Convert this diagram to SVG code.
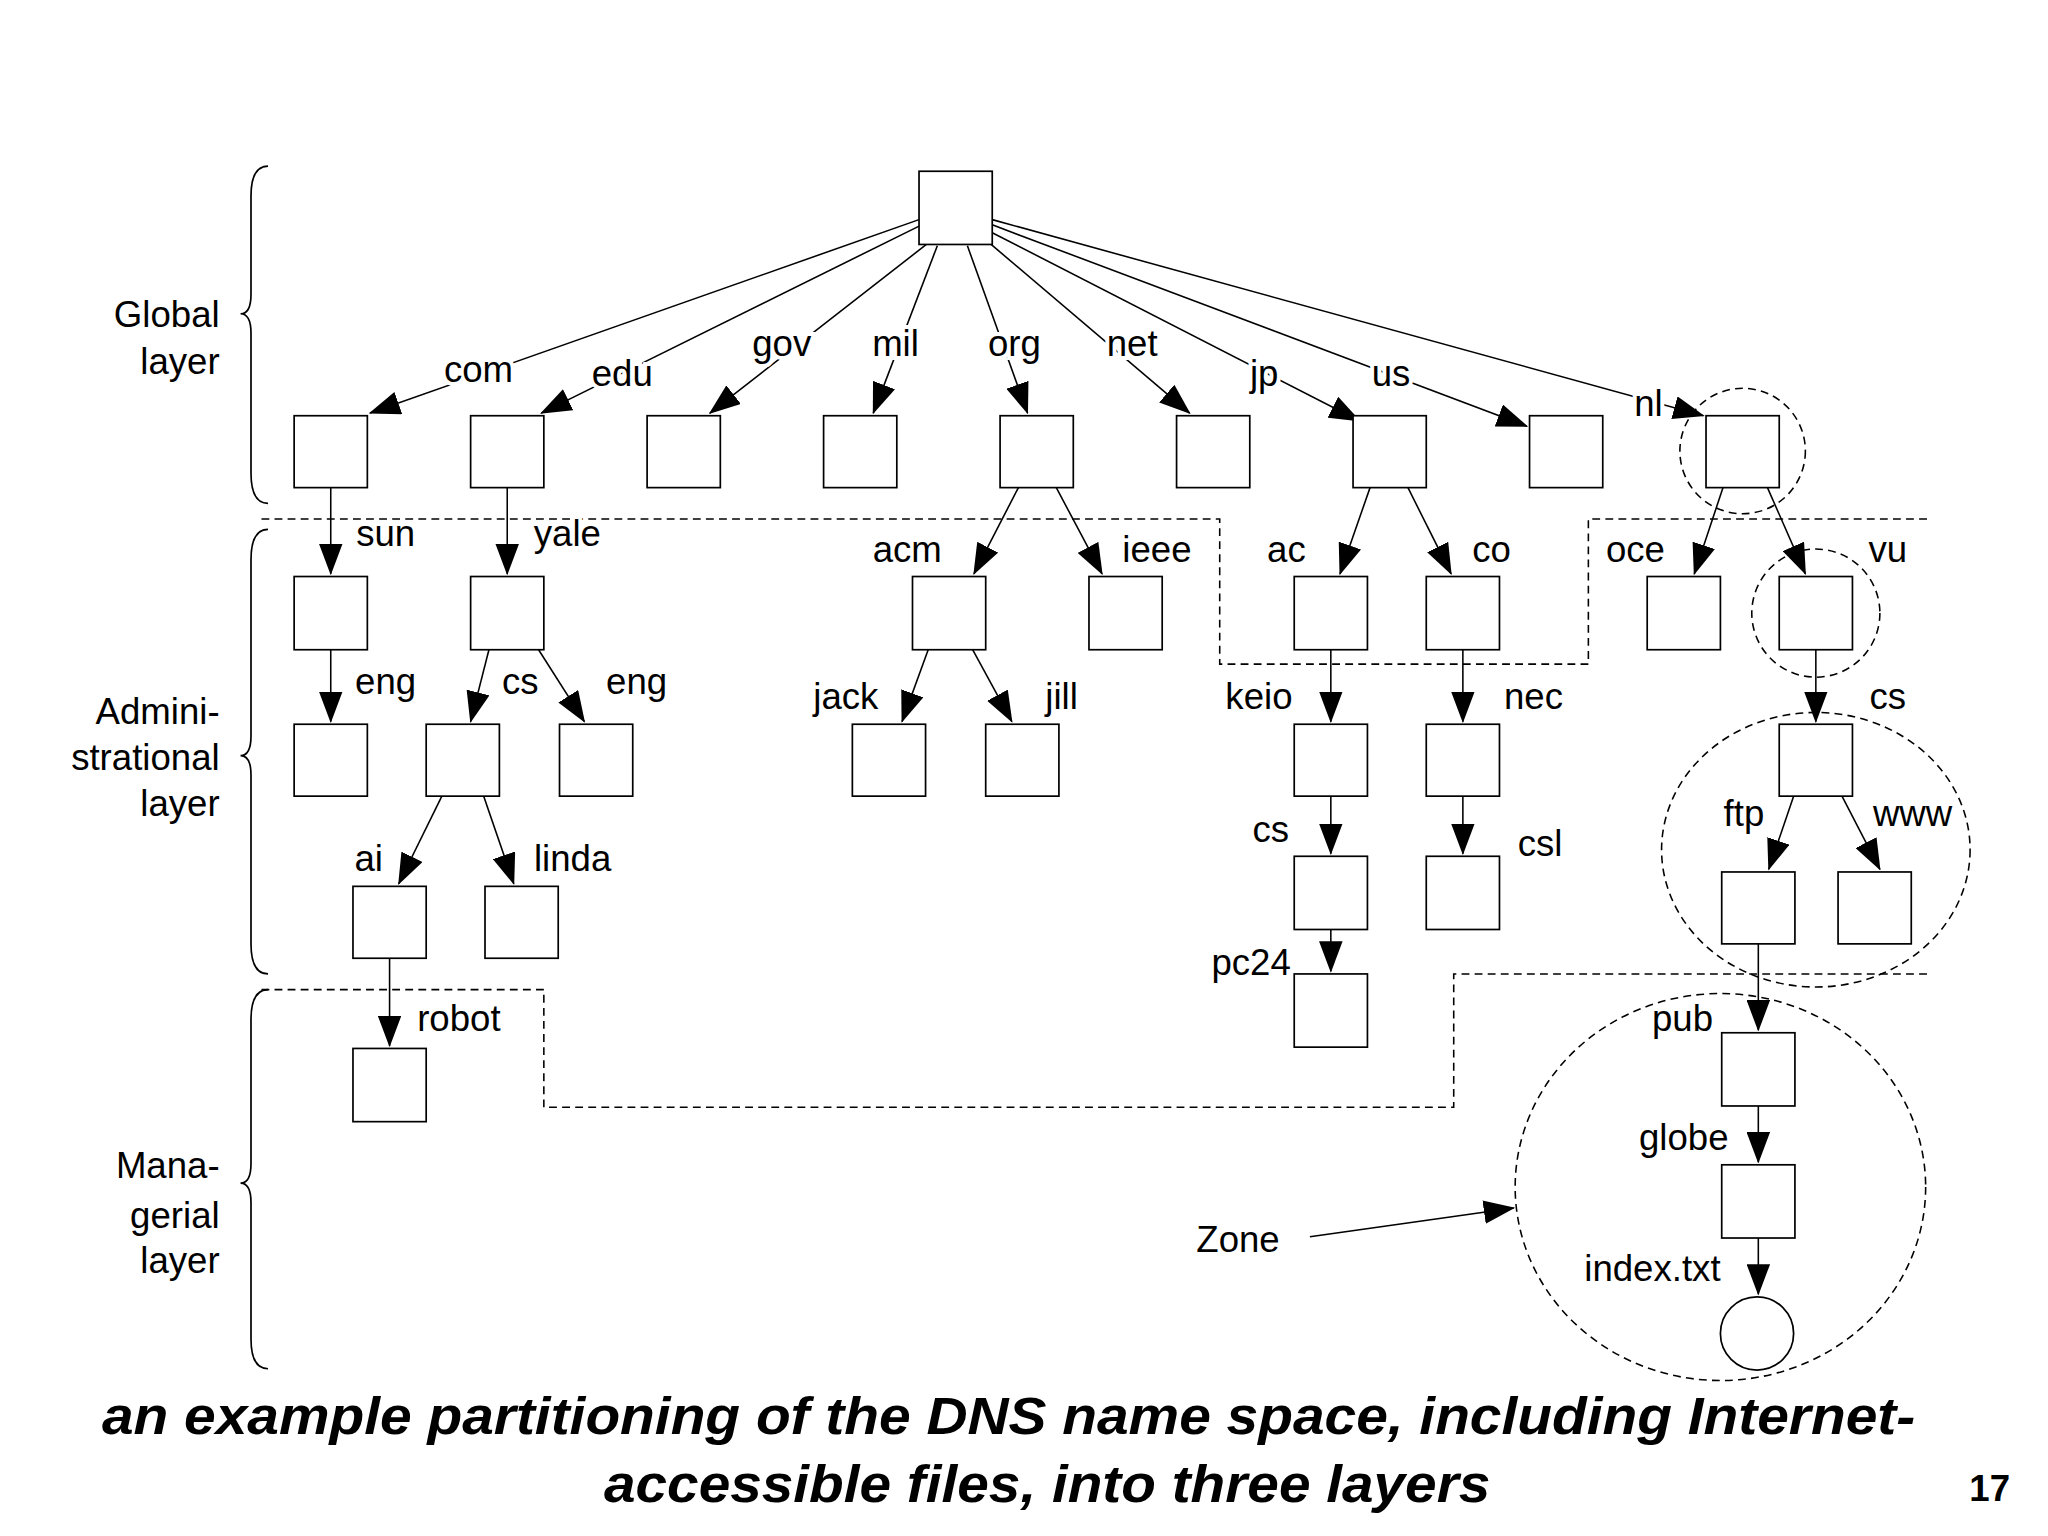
<svg xmlns="http://www.w3.org/2000/svg" width="2048" height="1536" viewBox="0 0 2048 1536">
<defs>
<marker id="ah" markerUnits="userSpaceOnUse" markerWidth="24" markerHeight="18" viewBox="0 0 24 18" refX="23" refY="9" orient="auto"><path d="M0,0 L24,9 L0,18 z" fill="#000"/></marker>
<style>
.b{fill:#fff;stroke:#000;stroke-width:1.3}
.e line{stroke:#000;stroke-width:1.2;marker-end:url(#ah)}
.d{fill:none;stroke:#000;stroke-width:1.2;stroke-dasharray:6 4}
text{font-family:"Liberation Sans",Arial,sans-serif;font-size:28px;fill:#000}
.l text{paint-order:stroke;stroke:#fff;stroke-width:6px}
.ly{text-anchor:end}
.cap{font-weight:bold;font-style:italic;font-size:40px}
</style>
</defs>
<rect width="2048" height="1536" fill="#fff"/>
<g transform="scale(1.3073)">
<g id="partitions">
<path class="d" d="M200,397 H933 V508 H1215 V397 H1475"/>
<path class="d" d="M200,757 H416 V847 H1112 V745 H1475"/>
<circle class="d" cx="1333" cy="345" r="48"/>
<circle class="d" cx="1389" cy="469" r="49"/>
<ellipse class="d" cx="1389" cy="650" rx="118" ry="105"/>
<ellipse class="d" cx="1316" cy="908" rx="157" ry="148"/>
</g>
<g id="braces" fill="none" stroke="#000" stroke-width="1.3">
<path d="M205,127 Q192,127 192,150 V225 Q192,240 184,240 Q192,240 192,255 V362 Q192,385 205,385"/>
<path d="M205,405 Q192,405 192,428 V563 Q192,578 184,578 Q192,578 192,593 V722 Q192,745 205,745"/>
<path d="M205,757 Q192,757 192,780 V890 Q192,905 184,905 Q192,905 192,920 V1024 Q192,1047 205,1047"/>
</g>
<g id="connectors" class="e">
<line x1="703" y1="168" x2="283" y2="316"/>
<line x1="705" y1="172" x2="414" y2="316"/>
<line x1="715" y1="182" x2="543" y2="316"/>
<line x1="717" y1="188" x2="668" y2="316"/>
<line x1="740" y1="188" x2="786" y2="316"/>
<line x1="757" y1="186" x2="910" y2="316"/>
<line x1="759" y1="178" x2="1040" y2="322"/>
<line x1="759" y1="172" x2="1168" y2="326"/>
<line x1="759" y1="168" x2="1303" y2="318"/>
<line x1="253" y1="373" x2="253" y2="439"/>
<line x1="388" y1="373" x2="388" y2="439"/>
<line x1="779" y1="373" x2="745" y2="439"/>
<line x1="808" y1="373" x2="843" y2="439"/>
<line x1="1048" y1="373" x2="1025" y2="439"/>
<line x1="1077" y1="373" x2="1110" y2="439"/>
<line x1="1318" y1="373" x2="1296" y2="439"/>
<line x1="1352" y1="373" x2="1381" y2="439"/>
<line x1="253" y1="497" x2="253" y2="552"/>
<line x1="374" y1="497" x2="360" y2="552"/>
<line x1="412" y1="497" x2="447" y2="552"/>
<line x1="710" y1="497" x2="690" y2="552"/>
<line x1="744" y1="497" x2="774" y2="552"/>
<line x1="1018" y1="497" x2="1018" y2="552"/>
<line x1="1119" y1="497" x2="1119" y2="552"/>
<line x1="1389" y1="497" x2="1389" y2="552"/>
<line x1="338" y1="609" x2="305" y2="676"/>
<line x1="370" y1="609" x2="393" y2="676"/>
<line x1="1018" y1="609" x2="1018" y2="653"/>
<line x1="1119" y1="609" x2="1119" y2="653"/>
<line x1="1372" y1="609" x2="1353" y2="665"/>
<line x1="1409" y1="609" x2="1438" y2="665"/>
<line x1="1018" y1="711" x2="1018" y2="743"/>
<line x1="298" y1="733" x2="298" y2="800"/>
<line x1="1345" y1="722" x2="1345" y2="788"/>
<line x1="1345" y1="846" x2="1345" y2="889"/>
<line x1="1345" y1="947" x2="1345" y2="990"/>
<line x1="1002" y1="946" x2="1158" y2="924"/>
</g>
<g id="nodes" class="b">
<rect id="root" x="703" y="131" width="56" height="56"/>
<rect id="com" x="225" y="318" width="56" height="55"/>
<rect id="edu" x="360" y="318" width="56" height="55"/>
<rect id="gov" x="495" y="318" width="56" height="55"/>
<rect id="mil" x="630" y="318" width="56" height="55"/>
<rect id="org" x="765" y="318" width="56" height="55"/>
<rect id="net" x="900" y="318" width="56" height="55"/>
<rect id="jp" x="1035" y="318" width="56" height="55"/>
<rect id="us" x="1170" y="318" width="56" height="55"/>
<rect id="nl" x="1305" y="318" width="56" height="55"/>
<rect id="sun" x="225" y="441" width="56" height="56"/>
<rect id="yale" x="360" y="441" width="56" height="56"/>
<rect id="acm" x="698" y="441" width="56" height="56"/>
<rect id="ieee" x="833" y="441" width="56" height="56"/>
<rect id="ac" x="990" y="441" width="56" height="56"/>
<rect id="co" x="1091" y="441" width="56" height="56"/>
<rect id="oce" x="1260" y="441" width="56" height="56"/>
<rect id="vu" x="1361" y="441" width="56" height="56"/>
<rect id="sun-eng" x="225" y="554" width="56" height="55"/>
<rect id="yale-cs" x="326" y="554" width="56" height="55"/>
<rect id="yale-eng" x="428" y="554" width="56" height="55"/>
<rect id="jack" x="652" y="554" width="56" height="55"/>
<rect id="jill" x="754" y="554" width="56" height="55"/>
<rect id="keio" x="990" y="554" width="56" height="55"/>
<rect id="nec" x="1091" y="554" width="56" height="55"/>
<rect id="vu-cs" x="1361" y="554" width="56" height="55"/>
<rect id="ai" x="270" y="678" width="56" height="55"/>
<rect id="linda" x="371" y="678" width="56" height="55"/>
<rect id="keio-cs" x="990" y="655" width="56" height="56"/>
<rect id="csl" x="1091" y="655" width="56" height="56"/>
<rect id="ftp" x="1317" y="667" width="56" height="55"/>
<rect id="www" x="1406" y="667" width="56" height="55"/>
<rect id="pc24" x="990" y="745" width="56" height="56"/>
<rect id="robot" x="270" y="802" width="56" height="56"/>
<rect id="pub" x="1317" y="790" width="56" height="56"/>
<rect id="globe" x="1317" y="891" width="56" height="56"/>
<circle id="index" cx="1344" cy="1020" r="28"/>
</g>
<g id="labels" class="l" text-anchor="middle">
<text x="366" y="292">com</text>
<text x="476" y="295">edu</text>
<text x="598" y="272">gov</text>
<text x="685" y="272">mil</text>
<text x="776" y="272">org</text>
<text x="866" y="272">net</text>
<text x="967" y="295">jp</text>
<text x="1064" y="295">us</text>
<text x="1261" y="318">nl</text>
<text x="295" y="418">sun</text>
<text x="434" y="418">yale</text>
<text x="694" y="430">acm</text>
<text x="885" y="430">ieee</text>
<text x="984" y="430">ac</text>
<text x="1141" y="430">co</text>
<text x="1251" y="430">oce</text>
<text x="1444" y="430">vu</text>
<text x="295" y="531">eng</text>
<text x="398" y="531">cs</text>
<text x="487" y="531">eng</text>
<text x="647" y="542">jack</text>
<text x="812" y="542">jill</text>
<text x="963" y="542">keio</text>
<text x="1173" y="542">nec</text>
<text x="1444" y="542">cs</text>
<text x="282" y="666">ai</text>
<text x="438" y="666">linda</text>
<text x="972" y="644">cs</text>
<text x="1178" y="655">csl</text>
<text x="1334" y="632">ftp</text>
<text x="1463" y="632">www</text>
<text x="957" y="746">pc24</text>
<text x="351" y="789">robot</text>
<text x="1287" y="789">pub</text>
<text x="1288" y="880">globe</text>
<text x="1264" y="980">index.txt</text>
<text x="947" y="958">Zone</text>
</g>
<g id="layers" class="ly">
<text x="168" y="250">Global</text>
<text x="168" y="286">layer</text>
<text x="168" y="554">Admini-</text>
<text x="168" y="589">strational</text>
<text x="168" y="624">layer</text>
<text x="168" y="901">Mana-</text>
<text x="168" y="939">gerial</text>
<text x="168" y="974">layer</text>
</g>
<text class="cap" x="78" y="1097" textLength="1387" lengthAdjust="spacingAndGlyphs">an example partitioning of the DNS name space, including Internet-</text>
<text class="cap" x="462" y="1149" textLength="678" lengthAdjust="spacingAndGlyphs">accessible files, into three layers</text>
<text x="1522" y="1148" font-weight="bold" font-size="22" text-anchor="middle">17</text>
</g>
</svg>
